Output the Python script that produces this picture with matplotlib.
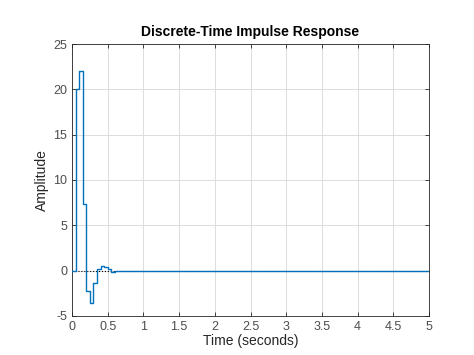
import numpy as np
import matplotlib
matplotlib.use("Agg")
import matplotlib.pyplot as plt

Ts = 0.05
t_end = 5.0
# impulse response samples (first samples), rest zero
head_values = [0.0, 20.0, 22.0, 7.3, -2.2, -3.55, -1.4, 0.15, 0.55, 0.4, 0.15, -0.1, -0.08]
x_ticks = [0, 0.5, 1, 1.5, 2, 2.5, 3, 3.5, 4, 4.5, 5]
x_tick_labels = ["0", "0.5", "1", "1.5", "2", "2.5", "3", "3.5", "4", "4.5", "5"]
y_ticks = [-5, 0, 5, 10, 15, 20, 25]

n = int(round(t_end / Ts)) + 1
t = np.arange(n) * Ts
y = np.zeros(n)
y[:len(head_values)] = head_values

plt.rcParams['font.family'] = ['Liberation Sans', 'DejaVu Sans']
plt.rcParams['axes.unicode_minus'] = False
fig = plt.figure(figsize=(4.74, 3.55), dpi=100)
ax = fig.add_axes([0.152, 0.110, 0.753, 0.766])

ax.plot([0, t_end], [0, 0], color='black', linestyle=':', linewidth=0.8, zorder=2)
ax.step(t, y, where='post', color='#0072BD', linewidth=1.0, zorder=3)

ax.set_xlim(0, 5)
ax.set_ylim(-5, 25)
ax.set_xticks(x_ticks)
ax.set_xticklabels(x_tick_labels)
ax.set_yticks(y_ticks)
ax.grid(True, color='#dcdcdc', linewidth=0.7)
ax.set_axisbelow(True)
for s in ax.spines.values():
    s.set_color('#262626')
    s.set_linewidth(0.6)
ax.tick_params(direction='in', length=3, width=0.6, colors='#262626', labelsize=9,
               top=True, right=True, labelcolor='#4d4d4d')
ax.set_xlabel('Time (seconds)', fontsize=10, color='#262626', labelpad=1)
ax.set_ylabel('Amplitude', fontsize=10, color='#262626', labelpad=3)
ax.set_title('Discrete-Time Impulse Response', fontsize=10, fontweight='bold', pad=6)

fig.savefig('out.png', dpi=100, facecolor='white')
